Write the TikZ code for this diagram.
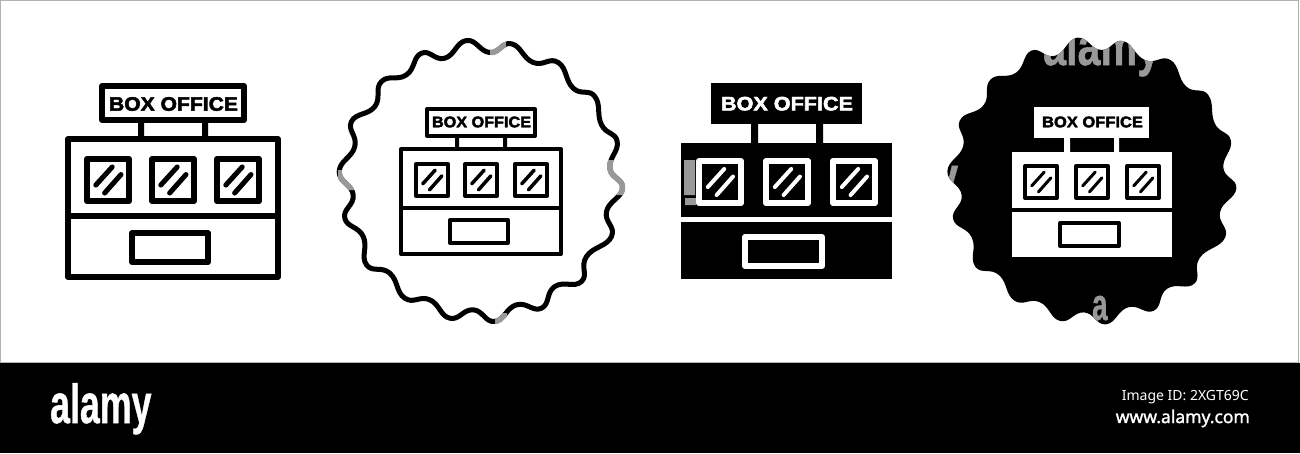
\documentclass[tikz,border=0pt]{standalone}
\usepackage{fontspec}
\newfontfamily\signfont[BoldFeatures={FakeBold=2.5}]{Liberation Sans}
\newfontfamily\logofont[BoldFeatures={FakeBold=1}]{Liberation Sans}
\newfontfamily\footfont{Noto Sans}
\newfontfamily\sitefont[FakeBold=1.5]{Noto Sans}

\definecolor{stampgray}{gray}{0.6}

\tikzset{
    iconline/.style={draw=black, line width=#1, line join=round},
    signlabel/.style={font=\signfont\bfseries\fontsize{20}{20}\selectfont, inner sep=0pt},
    logolabel/.style={font=\logofont\bfseries\fontsize{55}{55}\selectfont, inner sep=0pt, anchor=base west},
}

\newcommand{\wavypath}{
    plot[smooth cycle, tension=.8] coordinates {
        (-14,-140) (9.3,-128) (31,-136.7) (52.7,-118) (77.7,-118) (92.7,-92.3)
        (114.3,-84) (121,-55.7) (136.7,-39) (129.3,-12.3) (142,7.7) (126,31)
        (131,56) (106,76) (101,101) (74.3,106) (61,127.7) (36,124.3)
        (14.3,141) (-7.3,129.3) (-30.7,137.7) (-50.7,119.3) (-75.7,117.7) (-90.7,92.7)
        (-114,84.3) (-117.3,56) (-135.7,37.7) (-127.3,14.3) (-141.3,-9) (-125.7,-34)
        (-129,-59) (-105.7,-74) (-99,-99) (-74,-105.7) (-59,-127.3) (-35.7,-122.3)
    }
}
\newcommand{\windowpane}[5]{
    \draw[#4] (#1,#2) rectangle ++(#3,#3);
    \draw[#4, line width=#5, line cap=round] ({#1+.21*#3},{#2+.62*#3}) -- ({#1+.60*#3},{#2+.19*#3});
    \draw[#4, line width=#5, line cap=round] ({#1+.42*#3},{#2+.81*#3}) -- ({#1+.81*#3},{#2+.37*#3});
}

\begin{document}
\begin{tikzpicture}[x=1pt, y=-1pt]
    \useasboundingbox (0,0) rectangle (1300,453);
    \fill[white] (0,0) rectangle (1300,453);
    \draw[gray!60, line width=1pt] (0.5,0.5) rectangle (1298.5,362.5);
    \fill[black] (0,363) rectangle (1300,453);

    % outline icon
    \draw[iconline=6pt] (102,86) rectangle (244,120);
    \node[signlabel, xscale=1.055, yscale=.975] (sign1) at (173.5,104) {BOX OFFICE};
    \fill (138,123) rectangle (144,136) (202,123) rectangle (208,136);
    \draw[iconline=6pt] (68,139) rectangle (278,277);
    \draw[iconline=6pt] (68,216) -- (278,216);
    \foreach \wx in {87,152,217}
        \windowpane{\wx}{159}{42}{iconline=6pt}{5pt};
    \draw[iconline=6pt] (132,233) rectangle (208,262);

    % outline icon with wavy ring
    \draw[iconline=5pt, shift={(480.5,180.5)}] \wavypath;
    \begin{scope}
        \clip (490,42) rectangle (506,56) (606,160) rectangle (625,195)
              (338,170) rectangle (354,190) (495,313) rectangle (507,325);
        \draw[draw=stampgray, line width=5.5pt, shift={(480.5,180.5)}] \wavypath;
    \end{scope}
    \draw[iconline=4pt] (427,109) rectangle (535,136);
    \node[signlabel, xscale=.81, yscale=.77] (sign2) at (481.5,122) {BOX OFFICE};
    \fill (455,138) rectangle (459,148) (503,138) rectangle (507,148);
    \draw[iconline=4pt] (401,149) rectangle (561,254);
    \draw[iconline=4pt] (401,208) -- (561,208);
    \foreach \wx in {416,465,515}
        \windowpane{\wx}{164}{32}{iconline=4pt}{3.5pt};
    \draw[iconline=4pt] (450,220) rectangle (508,243);

    % solid icon
    \fill (711,83) rectangle (862,124);
    \node[signlabel, text=white, xscale=1.08, yscale=.975] (sign3) at (787,103.7) {BOX OFFICE};
    \fill (751,124) rectangle (758,143) (816,124) rectangle (823,143);
    \fill (681,143) rectangle (892,217);
    \fill (681,222) rectangle (892,279);
    \fill[stampgray] (684,160) rectangle (695,195) (685,198) rectangle (696,205);
    \foreach \wx in {699,766,833}
        \windowpane{\wx}{161}{42}{iconline=6pt, draw=white}{4pt};
    \draw[iconline=6pt, draw=white] (745,237) rectangle (822,266);

    % solid icon on wavy blob
    \fill[shift={(1091.5,180.5)}, scale=1.02] \wavypath;
    \begin{scope}
        \clip[shift={(1091.5,180.5)}, scale=1.02] \wavypath;
        \node[logolabel, text=stampgray, xscale=.75] (stamp1) at (1043,65) {alamy};
        \node[logolabel, text=stampgray, xscale=.62, font=\logofont\bfseries\fontsize{45}{45}\selectfont] (stamp2) at (1092,320) {a};
        \node[logolabel, text=stampgray, xscale=.75] (stamp3) at (935,195) {y};
    \end{scope}
    \fill[white] (1034,107) rectangle (1149,138);
    \node[signlabel, xscale=.825, yscale=.77] (sign4) at (1092.5,122) {BOX OFFICE};
    \fill[white] (1064,138) rectangle (1070,152) (1114,138) rectangle (1119,152);
    \fill[white] (1012,152) rectangle (1172,208);
    \fill[white] (1012,212) rectangle (1172,257);
    \foreach \wx in {1025,1076,1127}
        \windowpane{\wx}{166}{32}{iconline=4pt}{3pt};
    \draw[iconline=4pt] (1060,223) rectangle (1119,246);

    % footer
    \node[logolabel, text=white, xscale=.65] (logo) at (50,423) {alamy};
    \node[font=\footfont\fontsize{14}{14}\selectfont, text=white, anchor=base east, inner sep=0pt] (imageid) at (1249,400) {Image ID: 2XGT69C};
    \node[font=\sitefont\fontsize{17.5}{17.5}\selectfont, text=white, anchor=base east, inner sep=0pt] (site) at (1250,423) {www.alamy.com};
\end{tikzpicture}
\end{document}
